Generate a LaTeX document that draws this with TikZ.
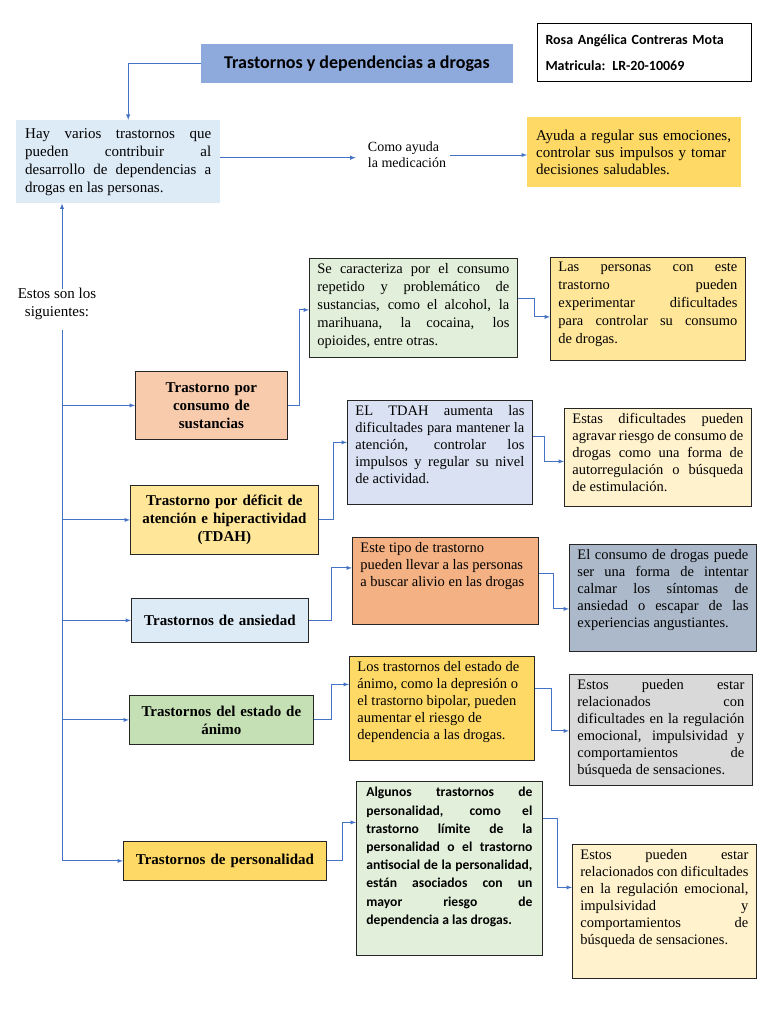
\documentclass[tikz,border=0pt]{standalone}
\usepackage{fontspec}
\setmainfont{Liberation Serif}
\newfontfamily\calibri{Carlito}
\hyphenpenalty=10000
\exhyphenpenalty=10000
\tolerance=9999

\definecolor{lineblue}{HTML}{4472C4}
\definecolor{titleblue}{HTML}{8EA9DB}
\definecolor{paleblue}{HTML}{DDEBF7}
\definecolor{greyblue}{HTML}{D9E1F2}
\definecolor{slateblue}{HTML}{ACB9CA}
\definecolor{gold}{HTML}{FFD966}
\definecolor{lightgold}{HTML}{FFE699}
\definecolor{cream}{HTML}{FFF2CC}
\definecolor{salmon}{HTML}{F8CBAD}
\definecolor{orange}{HTML}{F4B183}
\definecolor{mint}{HTML}{E2EFDA}
\definecolor{leaf}{HTML}{C5E0B4}
\definecolor{silver}{HTML}{D9D9D9}

\begin{document}
\begin{tikzpicture}[x=1pt,y=-1pt]
    \tikzstyle{arrow} = [->, >=latex, draw=lineblue, line width=0.9pt]
    \tikzstyle{line} = [draw=lineblue, line width=0.9pt]
    \tikzstyle{plain} = [rectangle, anchor=north west, inner xsep=9pt]
    \tikzstyle{disorder} = [rectangle, draw=black!85, line width=0.8pt, anchor=north west, align=center, inner xsep=6pt, font=\bfseries\fontsize{15}{18}\selectfont]
    \tikzstyle{detail} = [rectangle, draw=black!85, line width=0.8pt, anchor=north west, inner xsep=8pt, inner ysep=5pt, font=\fontsize{14.5}{17}\selectfont]

    \fill[white] (0,0) rectangle (768,1024);
    \useasboundingbox (0,0) rectangle (768,1024);

    % header
    \node[rectangle, fill=titleblue, minimum width=312, minimum height=39, font=\calibri\bfseries\fontsize{18}{22}\selectfont] (title) at (357,63.5) {Trastornos y dependencias a drogas};
    \node[rectangle, draw=black, line width=1pt, anchor=north west, text width=198, align=left, inner xsep=8pt, minimum height=58, font=\calibri\bfseries\fontsize{14}{17}\selectfont] (name) at (537,23) {Rosa Angélica Contreras Mota\\[9pt]Matricula: LR-20-10069};

    \node[plain, fill=paleblue, text width=186, align=justify, minimum height=83, font=\fontsize{15}{18}\selectfont] (intro) at (16,120) {Hay varios trastornos que\linebreak pueden contribuir al\linebreak desarrollo de dependencias a\linebreak drogas en las personas.};
    \node[inner sep=0pt, align=left, font=\fontsize{14}{16}\selectfont] (como) at (407,155) {Como ayuda\\la medicación};
    \node[plain, fill=gold, text width=196, align=left, minimum height=70, font=\fontsize{15}{17}\selectfont] (ayuda) at (527,117) {Ayuda a regular sus emociones,\\controlar sus impulsos y tomar\\decisiones saludables.};

    \draw[arrow] (title.west) -| ([xshift=10pt]intro.north);
    \draw[arrow] ([yshift=4pt]intro.east) -- ([yshift=4pt,xshift=-12pt]como.west |- intro.east);
    \draw[arrow] ([xshift=4pt]como.east) -- (como.east -| ayuda.west);

    % trunk
    \node[align=center, font=\fontsize{15}{18}\selectfont] (estos) at (57,304) {Estos son los\\siguientes:};
    \coordinate (up) at (62,289);
    \coordinate (down) at (62,330);

    % disorders
    \node[disorder, fill=salmon, text width=140, minimum height=68] (b1) at (135,371) {Trastorno por\\consumo de\\sustancias};
    \node[disorder, fill=lightgold, text width=176, minimum height=69] (b2) at (130,485) {Trastorno por déficit de\\atención e hiperactividad\\(TDAH)};
    \node[disorder, fill=paleblue, text width=165, minimum height=44] (b3) at (131,598) {Trastornos de ansiedad};
    \node[disorder, fill=leaf, text width=172, minimum height=49] (b4) at (129,695) {Trastornos del estado de\\ánimo};
    \node[disorder, fill=gold, text width=191, minimum height=39] (b5) at (123,841) {Trastornos de personalidad};

    % middle column
    \node[detail, fill=mint, font=\fontsize{14.5}{18}\selectfont] (m1) at (309,258) {\parbox[t][89pt][t]{192pt}{Se caracteriza por el consumo\linebreak repetido y problemático de\linebreak sustancias, como el alcohol, la\linebreak marihuana, la cocaina, los\linebreak opioides, entre otras.}};
    \node[detail, fill=greyblue] (m2) at (347,400) {\parbox[t][94pt][t]{169pt}{EL TDAH aumenta las\linebreak dificultades para mantener la\linebreak atención, controlar los\linebreak impulsos y regular su nivel\linebreak de actividad.}};
    \node[detail, fill=orange] (m3) at (352,537) {\parbox[t][77pt][t]{170pt}{\raggedright Este tipo de trastorno\\pueden llevar a las personas\\a buscar alivio en las drogas}};
    \node[detail, fill=gold] (m4) at (349,656) {\parbox[t][94pt][t]{169pt}{\raggedright Los trastornos del estado de\\ánimo, como la depresión o\\el trastorno bipolar, pueden\\aumentar el riesgo de\\dependencia a las drogas.}};
    \node[detail, fill=mint, inner xsep=10pt, inner ysep=6pt, font=\calibri\bfseries\fontsize{13.6}{18.2}\selectfont] (m5) at (356,781) {\parbox[t][162pt][t]{166pt}{Algunos trastornos de\linebreak personalidad, como el\linebreak trastorno límite de la\linebreak personalidad o el trastorno\linebreak antisocial de la personalidad,\linebreak están asociados con un\linebreak mayor riesgo de\linebreak dependencia a las drogas.}};

    % right column
    \node[detail, fill=lightgold, font=\fontsize{14.5}{18}\selectfont] (r1) at (550,257) {\parbox[t][93pt][t]{179pt}{Las personas con este\linebreak trastorno pueden\linebreak experimentar dificultades\linebreak para controlar su consumo\linebreak de drogas.}};
    \node[detail, fill=cream] (r2) at (564,408) {\parbox[t][88pt][t]{171pt}{Estas dificultades pueden\linebreak agravar riesgo de consumo de\linebreak drogas como una forma de\linebreak autorregulación o búsqueda\linebreak de estimulación.}};
    \node[detail, fill=slateblue] (r3) at (569,544) {\parbox[t][97pt][t]{171pt}{El consumo de drogas puede\linebreak ser una forma de intentar\linebreak calmar los síntomas de\linebreak ansiedad o escapar de las\linebreak experiencias angustiantes.}};
    \node[detail, fill=silver] (r4) at (569,674) {\parbox[t][101pt][t]{167pt}{Estos pueden estar\linebreak relacionados con\linebreak dificultades en la regulación\linebreak emocional, impulsividad y\linebreak comportamientos de\linebreak búsqueda de sensaciones.}};
    \node[detail, fill=cream] (r5) at (572,844) {\parbox[t][124pt][t]{168pt}{Estos pueden estar\linebreak relacionados con dificultades\linebreak en la regulación emocional,\linebreak impulsividad y\linebreak comportamientos de\linebreak búsqueda de sensaciones.}};

    % connectors
    \draw[arrow] (up) -- (up |- intro.south);
    \draw[line] (down) -- (down |- b5.west);
    \foreach \b in {b1,b2,b3,b4,b5}
        \draw[arrow] (down |- \b.west) -- (\b.west);

    \draw[arrow] (b1.east) -- ++(12,0) |- ([yshift=-2pt]m1.west);
    \draw[arrow] (b2.east) -- ++(15,0) |- ([yshift=10pt]m2.west);
    \draw[arrow] (b3.east) -- ++(23,0) |- ([yshift=13pt]m3.west);
    \draw[arrow] (b4.east) -- ++(18,0) |- ([yshift=24pt]m4.west);
    \draw[arrow] (b5.east) -- ++(16,0) |- ([yshift=46pt]m5.west);

    \draw[arrow] ([yshift=9pt]m1.east) -- ++(17,0) |- ([yshift=-8pt]r1.west);
    \draw[arrow] ([yshift=16pt]m2.east) -- ++(12,0) |- ([yshift=-4pt]r2.west);
    \draw[arrow] ([yshift=7pt]m3.east) -- ++(15,0) |- ([yshift=-11pt]r3.west);
    \draw[arrow] ([yshift=20pt]m4.east) -- ++(17,0) |- ([yshift=-1pt]r4.west);
    \draw[arrow] ([yshift=50pt]m5.east) -- ++(15,0) |- ([yshift=24pt]r5.west);
\end{tikzpicture}
\end{document}
